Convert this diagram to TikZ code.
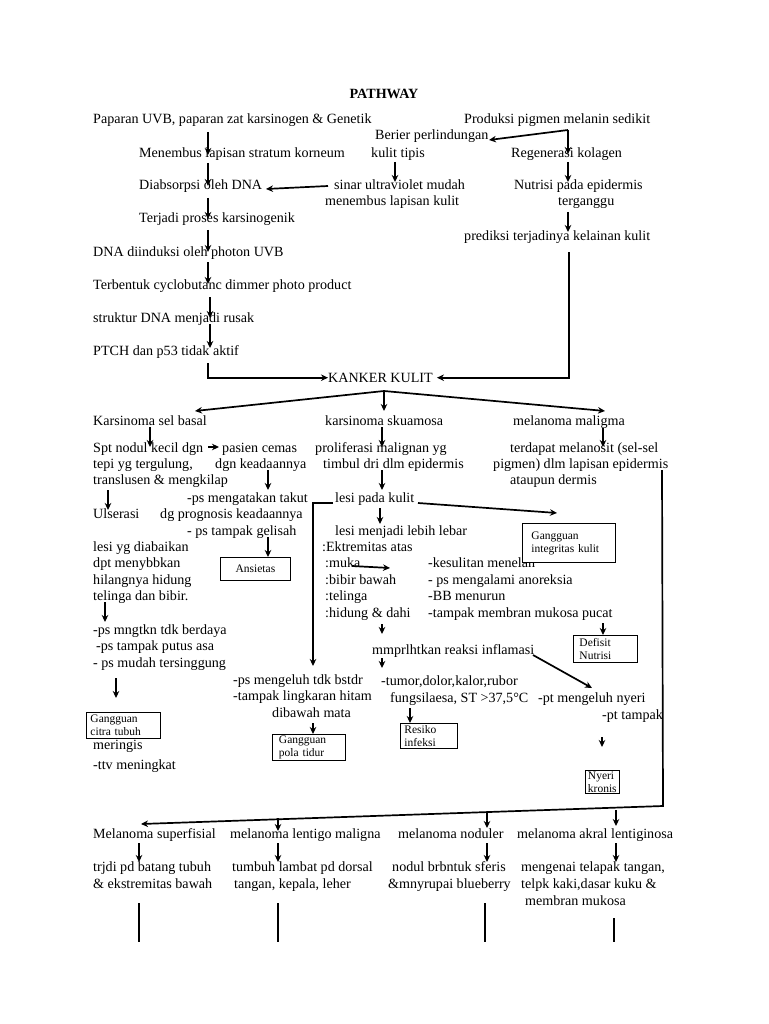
\documentclass[tikz,border=0pt]{standalone}
\usepackage{fontspec}
\setmainfont{Liberation Serif}
\usetikzlibrary{arrows.meta}
\begin{document}
\begin{tikzpicture}[x=1pt,y=-1pt,
	every node/.style={inner sep=0pt, anchor=mid west, font=\fontsize{14.1}{16}\selectfont},
	box/.style={draw, line width=0.9pt, fill=white, anchor=north west, inner ysep=1pt, align=left, font=\fontsize{11.5}{13}\selectfont},
	arr/.style={line width=1.7pt, -{Stealth[length=7pt,width=6.5pt]}},
	ln/.style={line width=1.7pt}]

\useasboundingbox (0,0) rectangle (768,1024);

\node[anchor=mid, font=\bfseries\fontsize{14.1}{16}\selectfont] (title) at (384,96) {PATHWAY};

\foreach \n/\x/\y/\t in {
paparan/93/121/{Paparan UVB, paparan zat karsinogen \& Genetik}%
,produksi/464/121/{Produksi pigmen melanin sedikit}%
,berier/375/137/{Berier perlindungan}%
,tipis/371/155/{kulit tipis}%
,menembus/139/155/{Menembus lapisan stratum korneum}%
,regenerasi/511/155/{Regenerasi kolagen}%
,diabsorpsi/139/187/{Diabsorpsi oleh DNA}%
,sinarA/334/187/{sinar ultraviolet mudah}%
,sinarB/325/203/{menembus lapisan kulit}%
,nutrisiA/514/187/{Nutrisi pada epidermis}%
,nutrisiB/558/203/{terganggu}%
,terjadi/139/220/{Terjadi proses karsinogenik}%
,prediksi/464/238/{prediksi terjadinya kelainan kulit}%
,dna/93/254/{DNA diinduksi oleh photon UVB}%
,terbentuk/93/287/{Terbentuk cyclobutanc dimmer photo product}%
,struktur/93/320/{struktur DNA menjadi rusak}%
,ptch/93/353/{PTCH dan p53 tidak aktif}%
,kanker/328/380/{KANKER KULIT}%
}{
	\node(\n) at(\x,\y) {\t};
}

\foreach \n/\x/\y/\t in {
basal/93/423/{Karsinoma sel basal}%
,skuamosa/325/423/{karsinoma skuamosa}%
,maligma/513/423/{melanoma maligma}%
,sptA/93/450/{Spt nodul kecil dgn}%
,sptB/93/466/{tepi yg tergulung,}%
,sptC/93/482/{translusen \& mengkilap}%
,cemasA/222/450/{pasien cemas}%
,cemasB/215/466/{dgn keadaannya}%
,takutA/187/500/{-ps mengatakan takut}%
,ulserasi/93/516/{Ulserasi}%
,takutB/160/516/{dg prognosis keadaannya}%
,takutC/187/533/{- ps tampak gelisah}%
,abaiA/93/549/{lesi yg diabaikan}%
,abaiB/93/565/{dpt menybbkan}%
,abaiC/93/582/{hilangnya hidung}%
,abaiD/93/598/{telinga dan bibir.}%
,dayaA/93/632/{-ps mngtkn tdk berdaya}%
,dayaB/96/648/{-ps tampak putus asa}%
,dayaC/93/665/{- ps mudah tersinggung}%
,meringis/93/747/{meringis}%
,ttv/93/767/{-ttv meningkat}%
,prolifA/315/450/{proliferasi malignan yg}%
,prolifB/323/466/{timbul dri dlm epidermis}%
,lesi/335/500/{lesi pada kulit}%
,lebar/335/533/{lesi menjadi lebih lebar}%
,ekstr/322/549/{:Ektremitas atas}%
,muka/325/565/{:muka}%
,bibir/325/582/{:bibir bawah}%
,telinga/325/598/{:telinga}%
,hidung/325/615/{:hidung \& dahi}%
,menelan/428/565/{-kesulitan menelan}%
,anoreksia/428/582/{- ps mengalami anoreksia}%
,bb/428/598/{-BB menurun}%
,pucat/428/615/{-tampak membran mukosa pucat}%
,inflamasi/372/652/{mmprlhtkan reaksi inflamasi}%
,tidurA/233/682/{-ps mengeluh tdk bstdr}%
,tidurB/233/698/{-tampak lingkaran hitam}%
,tidurC/272/715/{dibawah mata}%
,tumorA/381/683/{-tumor,dolor,kalor,rubor}%
,tumorB/390/700/{fungsilaesa, ST >37,5°C}%
,nyeriA/538/700/{-pt mengeluh nyeri}%
,nyeriB/602/717/{-pt tampak}%
,melanositA/510/450/{terdapat melanosit (sel-sel}%
,melanositB/493/466/{pigmen) dlm lapisan epidermis}%
,melanositC/510/482/{ataupun dermis}%
}{
	\node(\n) at(\x,\y) {\t};
}

\foreach \n/\x/\y/\t in {
superfisial/93/836/{Melanoma superfisial}%
,lentigo/230/836/{melanoma lentigo maligna}%
,noduler/398/836/{melanoma noduler}%
,akral/517/836/{melanoma akral lentiginosa}%
,batangA/93/869/{trjdi pd batang tubuh}%
,batangB/93/886/{\& ekstremitas bawah}%
,dorsalA/232/869/{tumbuh lambat pd dorsal}%
,dorsalB/234/886/{tangan, kepala, leher}%
,sferisA/392/869/{nodul brbntuk sferis}%
,sferisB/388/886/{\&mnyrupai blueberry}%
,telapakA/521/869/{mengenai telapak tangan,}%
,telapakB/521/886/{telpk kaki,dasar kuku \&}%
,telapakC/525/903/{membran mukosa}%
}{
	\node(\n) at(\x,\y) {\t};
}

% masalah keperawatan
\node[box, align=center, text width=62, inner xsep=4, minimum height=23] (ansietas) at(220,557) {Ansietas};
\node[box, text width=75, inner xsep=9, minimum height=39] (integritas) at(522,523) {Gangguan\\integritas kulit};
\node[box, text width=66, inner xsep=4, minimum height=26] (citra) at(86,712) {Gangguan\\citra tubuh};
\node[box, text width=60, inner xsep=6.5, minimum height=26] (pola) at(272,734) {Gangguan\\pola tidur};
\node[box, text width=49, inner xsep=4, minimum height=25] (resiko) at(400,723) {Resiko\\infeksi};
\node[box, text width=52, inner xsep=6, minimum height=27] (defisit) at(573,635) {Defisit\\Nutrisi};
\node[box, text width=29, inner xsep=2.5, minimum height=23] (kronis) at(585,770) {Nyeri\\kronis};

\foreach [count=\i] \x\y\u\v in {208/132/208/155,208/163/208/186,208/198/208/219,208/230/208/252%
,208/262/208/284,210/297/210/318,210/324/210/348,395/162/395/182,328/186/266/189%
,568/130/489/140,568/130/568/154,568/162/568/182,568/212/568/232%
,384/391/195/411,384/391/384/411,384/391/605/411%
,150/427/150/447,208/447/219/447,268/470/268/490,108/490/108/510,105/602/105/622,116/678/116/698%
,382/427/382/447,382/470/382/490,380/508/380/524,418/503/557/513,352/566/390/568%
,382/624/382/634,382/658/382/668,533/655/592/688,603/428/603/447,602/737/602/747%
,278/818/278/831,487/813/487/828,616/810/616/826%
,139/843/139/862,278/843/278/862,487/843/487/862,616/843/616/862%
}{
	\coordinate(s\i) at(\x,\y);
	\coordinate(e\i) at(\u,\v);
	\draw[arr] (s\i) -- (e\i);
}

\coordinate(ptchdown) at(208,363);
\coordinate(prediksidown) at(569,252);
\coordinate(lesiturn) at(333,503);
\coordinate(lesidown) at(313,666);
\coordinate(melanositdown) at(662,470);
\coordinate(melanositturn) at(663,806);
\coordinate(superfisialtip) at(141,824);

\draw[arr] (ptchdown) |- (kanker.west);
\draw[arr] (prediksidown) |- ([xshift=4]kanker.east);
\draw[arr] (lesiturn) -| (lesidown);
\draw[arr] (melanositdown) -- (melanositturn) -- (superfisialtip);
\draw[arr] (268,537) -- (ansietas.north -| 268,0);
\draw[arr] (313,723) -- (pola.north -| 313,0);
\draw[arr] (410,708) -- (resiko.north -| 410,0);
\draw[arr] (603,623) -- (defisit.north -| 603,0);

\foreach \x\a in {139/903,278/903,485/903,614/918}{
	\draw[ln] (\x,\a) -- (\x,942);
}

\end{tikzpicture}
\end{document}
